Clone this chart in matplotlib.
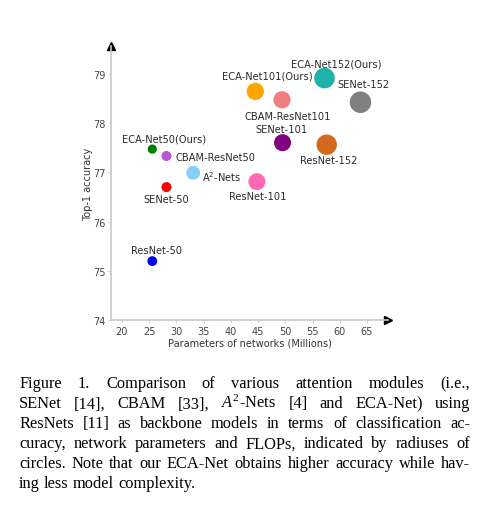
import matplotlib
matplotlib.use("Agg")
import matplotlib.pyplot as plt

plt.rcParams['mathtext.fontset'] = 'custom'
plt.rcParams['mathtext.rm'] = 'Liberation Serif'
plt.rcParams['mathtext.it'] = 'Liberation Serif:italic'
plt.rcParams['mathtext.sf'] = 'DejaVu Sans'

# ---- data ----
models = ["ResNet-50", "SENet-50", "CBAM-ResNet50", "ECA-Net50(Ours)", "A$^\\mathsf{2}$-Nets",
          "ResNet-101", "SENet-101", "CBAM-ResNet101", "ECA-Net101(Ours)",
          "ResNet-152", "SENet-152", "ECA-Net152(Ours)"]
params = [25.6, 28.2, 28.2, 25.6, 33.1, 44.8, 49.5, 49.4, 44.5, 57.6, 63.8, 57.2]
accuracy = [75.20, 76.70, 77.33, 77.47, 76.99, 76.81, 77.60, 78.47, 78.64, 77.56, 78.42, 78.91]
marker_area = [50, 52, 52, 44, 100, 150, 150, 155, 155, 215, 240, 220]
colors = ["blue", "red", "mediumorchid", "green", "lightskyblue",
          "hotpink", "purple", "lightcoral", "orange",
          "chocolate", "grey", "lightseagreen"]
x_ticks = [20, 25, 30, 35, 40, 45, 50, 55, 60, 65]
y_ticks = [74, 75, 76, 77, 78, 79]

# label placement (offset in pixels, alignment)
label_offsets = [(4, 11, 'center'), (0, -12, 'center'), (9, -0.5, 'left'), (12, 10.5, 'center'),
                 (8.5, -3.5, 'left'), (1, -14, 'center'), (-1, 14, 'center'), (6, -16, 'center'),
                 (12, 15.5, 'center'), (2, -15.5, 'center'), (3, 18, 'center'), (12, 15, 'center')]

caption_lines = [
    "Figure 1. Comparison of various attention modules (i.e.,",
    "SENet [14], CBAM [33], $A^2$-Nets [4] and ECA-Net) using",
    "ResNets [11] as backbone models in terms of classification ac-",
    "curacy, network parameters and FLOPs, indicated by radiuses of",
    "circles. Note that our ECA-Net obtains higher accuracy while hav-",
    "ing less model complexity.",
]

W, H = 491, 510
fig = plt.figure(figsize=(W / 100, H / 100), dpi=100)
ax = fig.add_axes([111.3 / W, 1 - 321.3 / H, (388 - 111.3) / W, (321.3 - 47) / H])

ax.scatter(params, accuracy, s=marker_area, c=colors, linewidths=0, zorder=3)
for name, px, py, (dx, dy, ha) in zip(models, params, accuracy, label_offsets):
    ax.annotate(name, (px, py), xytext=(dx, dy), textcoords='offset pixels',
                ha=ha, va='center', fontsize=7.1, color='#2a2a2a')

ax.set_xlim(18.08, 68.85)
ax.set_ylim(74, 79.56)
ax.set_xticks(x_ticks)
ax.set_yticks(y_ticks)
for s in ['top', 'right']:
    ax.spines[s].set_visible(False)
for s in ['left', 'bottom']:
    ax.spines[s].set_color('#c8c8c8')
    ax.spines[s].set_linewidth(1.2)
ax.tick_params(axis='both', length=2, width=0.6, color='#c8c8c8', labelsize=7,
               labelcolor='#444444', pad=2)
ax.set_xlabel("Parameters of networks (Millions)", fontsize=7, color='#333333', labelpad=1)
ax.set_ylabel("Top-1 accuracy", fontsize=7, color='#333333', labelpad=0.5)
ax.plot(1, 0, ">k", transform=ax.transAxes, clip_on=False, markersize=6)
ax.plot(0, 1, "^k", transform=ax.transAxes, clip_on=False, markersize=6)

# ---- justified caption ----
fig.canvas.draw()
renderer = fig.canvas.get_renderer()
left_px, right_px = 19.0, 470.0
base0, step = 388.3, 20.0
cap_kw = dict(fontsize=11.8, family='Liberation Serif', color='black', va='baseline', ha='left')
space_t = fig.text(0, 0, "a a", **cap_kw)
wa = fig.text(0, 0, "aa", **cap_kw)
space_w = space_t.get_window_extent(renderer).width - wa.get_window_extent(renderer).width
space_t.remove(); wa.remove()
for i, line in enumerate(caption_lines):
    words = line.split(' ')
    y = 1 - (base0 + i * step) / H
    texts = [fig.text(0, y, w, **cap_kw) for w in words]
    widths = [t.get_window_extent(renderer).width for t in texts]
    if i < len(caption_lines) - 1 and len(words) > 1:
        gap = (right_px - left_px - sum(widths)) / (len(words) - 1)
    else:
        gap = space_w
    x = left_px
    for t, w in zip(texts, widths):
        t.set_x(x / W)
        x += w + gap

fig.savefig("out.png", dpi=100)
